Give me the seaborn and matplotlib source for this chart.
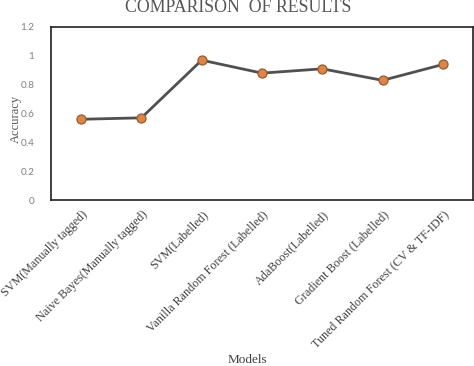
import matplotlib
matplotlib.use("Agg")
import matplotlib.pyplot as plt
import seaborn as sns
import pandas as pd

models = ["SVM(Manually tagged)", "Naive Bayes(Manually tagged)", "SVM(Labelled)",
          "Vanilla Random Forest (Labelled)", "AdaBoost(Labelled)",
          "Gradient Boost (Labelled)", "Tuned Random Forest (CV & TF-IDF)"]
accuracy = [0.56, 0.57, 0.97, 0.88, 0.91, 0.83, 0.94]
yticks = [0, 0.2, 0.4, 0.6, 0.8, 1, 1.2]
ytick_labels = ["0", "0.2", "0.4", "0.6", "0.8", "1", "1.2"]

df = pd.DataFrame({"Model": models, "Accuracy": accuracy, "pos": range(len(models))})

sns.set_style("white")
fig = plt.figure(figsize=(4.74, 3.66), dpi=100)
ax = fig.add_axes([51/474, 166/366, 422/474, 173/366])

sns.lineplot(data=df, x="pos", y="Accuracy", ax=ax, color="#505050", linewidth=2,
             marker="o", markersize=6.5, markerfacecolor="#d9864a",
             markeredgecolor="#9c5a2a", markeredgewidth=0.9)

ax.set_xlim(-0.5, len(models) - 0.5)
ax.set_ylim(0, 1.2)
ax.set_yticks(yticks)
ax.set_yticklabels(ytick_labels, fontsize=7.2, color="#808080", family="Lato")
ax.set_xticks(range(len(models)))
ax.set_xticklabels(models, rotation=45, ha="right", rotation_mode="anchor",
                   fontsize=8.7, color="#404040", family="Liberation Serif")
ax.tick_params(axis="x", length=0, pad=6)
ax.tick_params(axis="y", length=0, pad=12)
for s in ax.spines.values():
    s.set_color("#202020")
    s.set_linewidth(1.2)
ax.set_xlabel("Models", fontsize=9.5, color="#404040", family="Liberation Serif")
ax.xaxis.set_label_coords(0.465, -0.89)
ax.set_ylabel("Accuracy", fontsize=9, color="#555555", family="Liberation Serif")
ax.yaxis.set_label_coords(-0.07, 0.47)
fig.text(238/474, 1 - 8/366, "COMPARISON  OF RESULTS", ha="center", va="center",
         fontsize=12.8, color="#555555", family="Liberation Serif")

fig.savefig("out.png", dpi=100)
